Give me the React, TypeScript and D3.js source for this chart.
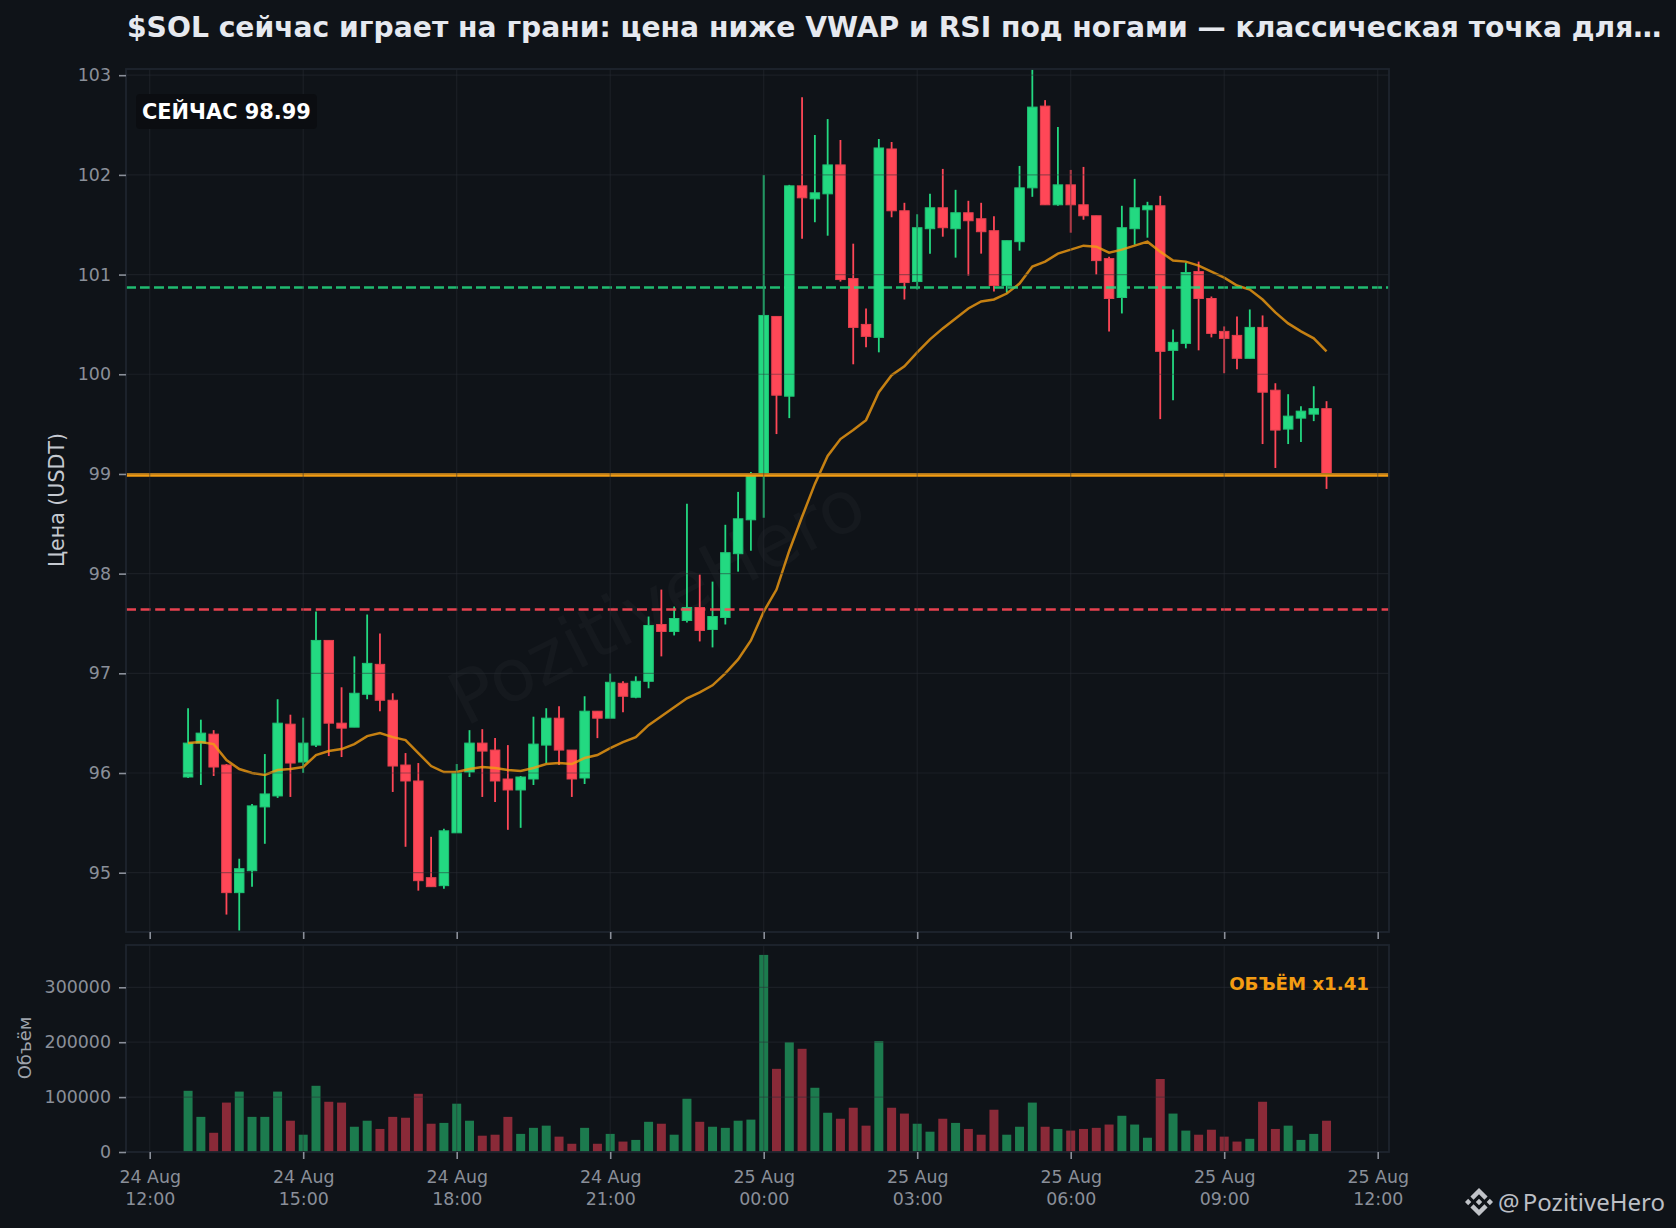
import { useRef, useEffect } from "react";
import * as d3 from "d3";

const WIDTH = 1676;
const HEIGHT = 1228;

const TITLE = "$SOL сейчас играет на грани: цена ниже VWAP и RSI под ногами — классическая точка для…";
const PRICE_TICKS = [95, 96, 97, 98, 99, 100, 101, 102, 103];
const VOLUME_TICKS = [0, 100000, 200000, 300000];
const CURRENT_PRICE = 98.99;
const RESISTANCE = 100.87;
const SUPPORT = 97.64;

// 15 minute candles, the first one opens at 24 Aug 12:45
const FIRST_CANDLE = Date.UTC(2021, 7, 24, 12, 45);
const STEP_MS = 15 * 60 * 1000;

const opens = [
    95.96, 96.3, 96.39, 96.08, 94.8, 95.02, 95.66, 95.77, 96.49, 96.11,
    96.28, 97.33, 96.5, 96.46, 96.79, 97.09, 96.73, 96.08, 95.92, 94.95,
    94.87, 95.4, 96.01, 96.3, 96.23, 95.94, 95.83, 95.94, 96.28, 96.55,
    96.23, 95.95, 96.62, 96.55, 96.9, 96.76, 96.92, 97.49, 97.42, 97.53,
    97.66, 97.44, 97.56, 98.2, 98.54, 99.0, 100.58, 99.78, 101.89, 101.76,
    101.81, 102.1, 100.96, 100.5, 100.37, 102.26, 101.64, 100.93, 101.46, 101.67,
    101.46, 101.62, 101.56, 101.44, 100.89, 101.33, 101.87, 102.69, 101.7, 101.9,
    101.7, 101.59, 101.16, 100.77, 101.46, 101.65, 101.69, 100.24, 100.31, 101.03,
    100.76, 100.43, 100.39, 100.16, 100.47, 99.84, 99.45, 99.56, 99.6, 99.655,
];
const closes = [
    96.3, 96.4, 96.06, 94.8, 95.04, 95.67, 95.79, 96.5, 96.1, 96.3,
    97.33, 96.5, 96.45, 96.8, 97.1, 96.73, 96.07, 95.92, 94.92, 94.86,
    95.42, 96.0, 96.3, 96.22, 95.92, 95.83, 95.96, 96.29, 96.55, 96.23,
    95.94, 96.62, 96.55, 96.91, 96.77, 96.92, 97.48, 97.42, 97.55, 97.66,
    97.43, 97.57, 98.21, 98.55, 99.0, 100.59, 99.79, 101.89, 101.77, 101.82,
    102.1, 100.95, 100.47, 100.38, 102.27, 101.64, 100.92, 101.47, 101.67, 101.47,
    101.62, 101.54, 101.43, 100.89, 101.34, 101.87, 102.68, 101.7, 101.9, 101.7,
    101.59, 101.14, 100.76, 101.47, 101.67, 101.69, 100.23, 100.32, 101.02, 100.76,
    100.41, 100.36, 100.16, 100.47, 99.82, 99.44, 99.58, 99.63, 99.655, 98.99,
];
const highs = [
    96.65, 96.535, 96.43, 96.09, 95.14, 95.69, 96.19, 96.74, 96.585, 96.555,
    97.62, 97.33, 96.86, 97.17, 97.59, 97.4, 96.8, 96.2, 96.1, 95.36,
    95.44, 96.09, 96.43, 96.44, 96.35, 96.28, 95.97, 96.565, 96.65, 96.67,
    96.23, 96.77, 96.62, 97.0, 96.92, 96.97, 97.57, 97.84, 97.67, 98.7,
    97.99, 97.92, 98.49, 98.82, 99.02, 102.0, 100.58, 101.9, 102.78, 102.4,
    102.56, 102.35, 101.31, 100.66, 102.36, 102.33, 101.72, 101.605, 101.81, 102.06,
    101.85, 101.74, 101.72, 101.585, 101.34, 102.09, 103.06, 102.75, 102.48, 102.05,
    102.08, 101.59, 101.18, 101.69, 101.96, 101.73, 101.79, 100.45, 101.12, 101.13,
    100.78, 100.48, 100.58, 100.65, 100.59, 99.91, 99.8, 99.68, 99.88, 99.73,
];
const lows = [
    95.95, 95.88, 95.97, 94.58, 94.42, 94.86, 95.29, 95.75, 95.76, 96.0,
    96.26, 96.17, 96.16, 96.46, 96.74, 96.62, 95.81, 95.26, 94.82, 94.86,
    94.84, 95.4, 95.96, 95.76, 95.71, 95.43, 95.45, 95.88, 96.1, 96.08,
    95.76, 95.89, 96.35, 96.55, 96.61, 96.75, 96.85, 97.17, 97.38, 97.51,
    97.32, 97.26, 97.49, 98.02, 98.23, 98.56, 99.4, 99.56, 101.36, 101.525,
    101.39, 100.93, 100.1, 100.27, 100.22, 101.575, 100.75, 100.85, 101.21, 101.38,
    101.17, 100.99, 101.21, 100.83, 100.82, 101.24, 101.78, 101.7, 101.69, 101.42,
    101.55, 101.0, 100.43, 100.61, 101.3, 101.37, 99.55, 99.74, 100.26, 100.24,
    100.37, 100.01, 100.05, 100.16, 99.3, 99.06, 99.3, 99.32, 99.53, 98.85,
];
const vwap = [
    96.3, 96.31, 96.29, 96.13, 96.04, 96.0, 95.98, 96.03, 96.04, 96.06,
    96.18, 96.22, 96.24, 96.29, 96.37, 96.4, 96.36, 96.33, 96.2, 96.07,
    96.01, 96.01, 96.04, 96.06, 96.05, 96.03, 96.02, 96.05, 96.09, 96.1,
    96.09, 96.15, 96.18, 96.25, 96.31, 96.36, 96.48, 96.57, 96.66, 96.75,
    96.81, 96.88, 97.0, 97.14, 97.33, 97.62, 97.84, 98.23, 98.57, 98.9,
    99.18, 99.35, 99.44, 99.54, 99.82, 99.99, 100.08, 100.22, 100.35, 100.46,
    100.56, 100.66, 100.73, 100.75, 100.81, 100.91, 101.08, 101.13, 101.21, 101.25,
    101.29, 101.28, 101.22, 101.25, 101.29, 101.33, 101.23, 101.14, 101.13, 101.09,
    101.03, 100.97, 100.89, 100.85, 100.75, 100.62, 100.51, 100.43, 100.36, 100.23,
];
const volumes = [
    111500, 64000, 35000, 90000, 110000, 64000, 64000, 110000, 57000, 31500,
    120600, 91500, 90000, 46000, 57000, 42000, 64000, 62400, 106000, 51500,
    53000, 88000, 57000, 29700, 31500, 64000, 33000, 44000, 48000, 28000,
    15000, 44000, 15000, 33000, 19000, 22000, 55000, 51500, 31500, 97000,
    55000, 46000, 44000, 57000, 59000, 359000, 151500, 200000, 188000, 117000,
    71500, 60600, 80600, 48000, 202000, 80600, 70000, 51500, 37000, 60600,
    53000, 42000, 31500, 77000, 31500, 46000, 90000, 46000, 42000, 39000,
    42000, 44000, 50000, 66000, 50000, 26000, 133000, 70000, 39000, 31500,
    40600, 28000, 19000, 24000, 91500, 42000, 48000, 22000, 33000, 57000,
];

const GREEN = "#23d981";
const GREEN_EDGE = "#1fc475";
const RED = "#ff4757";
const RED_EDGE = "#e5414f";
const VOL_GREEN = "#1c7b4e";
const VOL_RED = "#8a2a38";
const ORANGE = "#f39c12";
const BG = "#0f1318";
const SPINE = "#1e252e";
const TICK = "#8a8f99";
const FONT = "'DejaVu Sans', sans-serif";

const BINANCE =
    "M9.79 13.45 16 7.24l6.21 6.21 3.61-3.61L16 0 6.18 9.84l3.61 3.61zM0 16l3.61-3.61L7.22 16l-3.61 3.61zM9.79 18.55 16 24.76l6.21-6.21 3.62 3.61L16 32l-9.82-9.84zM24.78 16l3.61-3.61L32 16l-3.61 3.61zM19.66 16 16 12.34 12.34 16 16 19.66z";

const App = () => {
    const svgRef = useRef<SVGSVGElement | null>(null);

    useEffect(() => {
        const svg = d3.select(svgRef.current);
        svg.selectAll("*").remove();

        const left = 126;
        const right = 1389;
        const priceTop = 69;
        const priceBottom = 932;
        const volTop = 945;
        const volBottom = 1152;

        const times = opens.map((_, i) => new Date(FIRST_CANDLE + i * STEP_MS));
        const tickTimes = d3.range(0, 9).map(i => new Date(Date.UTC(2021, 7, 24, 12 + i * 3)));

        const x = d3.scaleUtc()
            .domain([tickTimes[0], tickTimes[8]])
            .range([149.7, 1377.7]);
        const yPrice = d3.scaleLinear().domain([95, 103]).range([872.7, 75.2]);
        const yVol = d3.scaleLinear().domain([0, 300000]).range([volBottom, 987.3]);

        svg.append("rect").attr("width", WIDTH).attr("height", HEIGHT).attr("fill", BG);

        const defs = svg.append("defs");
        defs.append("clipPath").attr("id", "price-clip").append("rect")
            .attr("x", left).attr("y", priceTop)
            .attr("width", right - left).attr("height", priceBottom - priceTop);

        // Watermark sits under everything else
        svg.append("text")
            .attr("transform", "translate(659,606) rotate(-27)")
            .attr("text-anchor", "middle")
            .attr("dominant-baseline", "middle")
            .attr("font-family", FONT)
            .attr("font-size", 73)
            .attr("fill", "#ffffff")
            .attr("fill-opacity", 0.026)
            .text("PozitiveHero");

        const price = svg.append("g").attr("clip-path", "url(#price-clip)");
        const barWidth = 9.5;

        // Candles
        const candle = price.selectAll("g.candle")
            .data(d3.range(opens.length))
            .join("g")
            .attr("class", "candle");
        candle.append("line")
            .attr("x1", i => x(times[i]))
            .attr("x2", i => x(times[i]))
            .attr("y1", i => yPrice(highs[i]))
            .attr("y2", i => yPrice(lows[i]))
            .attr("stroke", i => (closes[i] >= opens[i] ? GREEN : RED))
            .attr("stroke-width", 1.8);
        candle.append("rect")
            .attr("x", i => x(times[i]) - barWidth / 2)
            .attr("width", barWidth)
            .attr("y", i => yPrice(Math.max(opens[i], closes[i])))
            .attr("height", i => Math.abs(yPrice(opens[i]) - yPrice(closes[i])))
            .attr("fill", i => (closes[i] >= opens[i] ? GREEN : RED))
            .attr("stroke", i => (closes[i] >= opens[i] ? GREEN_EDGE : RED_EDGE))
            .attr("stroke-width", 1);

        // Volume bars
        svg.append("g").selectAll("rect")
            .data(volumes)
            .join("rect")
            .attr("x", (_, i) => x(times[i]) - 4.5)
            .attr("width", 9)
            .attr("y", d => yVol(d))
            .attr("height", d => volBottom - yVol(d))
            .attr("fill", (_, i) => (closes[i] >= opens[i] ? VOL_GREEN : VOL_RED));

        // Grid goes over the marks, it shows as a thin dark line across the bodies
        const grid = svg.append("g")
            .attr("stroke", "#2a2e35")
            .attr("stroke-opacity", 0.45)
            .attr("stroke-width", 1.2);
        PRICE_TICKS.forEach(t => {
            grid.append("line").attr("x1", left).attr("x2", right)
                .attr("y1", yPrice(t)).attr("y2", yPrice(t));
        });
        VOLUME_TICKS.slice(1).forEach(t => {
            grid.append("line").attr("x1", left).attr("x2", right)
                .attr("y1", yVol(t)).attr("y2", yVol(t));
        });
        tickTimes.forEach(t => {
            grid.append("line").attr("x1", x(t)).attr("x2", x(t))
                .attr("y1", priceTop).attr("y2", priceBottom);
            grid.append("line").attr("x1", x(t)).attr("x2", x(t))
                .attr("y1", volTop).attr("y2", volBottom);
        });

        // VWAP and the levels
        const line = d3.line<number>()
            .x((_, i) => x(times[i]))
            .y(d => yPrice(d));
        price.append("path")
            .datum(vwap)
            .attr("fill", "none")
            .attr("stroke", ORANGE)
            .attr("stroke-opacity", 0.8)
            .attr("stroke-width", 2.5)
            .attr("d", line);

        price.append("line")
            .attr("x1", left).attr("x2", right)
            .attr("y1", yPrice(RESISTANCE)).attr("y2", yPrice(RESISTANCE))
            .attr("stroke", GREEN)
            .attr("stroke-opacity", 0.85)
            .attr("stroke-width", 2.5)
            .attr("stroke-dasharray", "10 4");
        price.append("line")
            .attr("x1", left).attr("x2", right)
            .attr("y1", yPrice(SUPPORT)).attr("y2", yPrice(SUPPORT))
            .attr("stroke", RED)
            .attr("stroke-opacity", 0.9)
            .attr("stroke-width", 2.5)
            .attr("stroke-dasharray", "10 4.6");
        price.append("line")
            .attr("x1", left).attr("x2", right)
            .attr("y1", yPrice(CURRENT_PRICE)).attr("y2", yPrice(CURRENT_PRICE))
            .attr("stroke", ORANGE)
            .attr("stroke-width", 3.8);

        // Spines
        svg.append("rect")
            .attr("x", left).attr("y", priceTop)
            .attr("width", right - left).attr("height", priceBottom - priceTop)
            .attr("fill", "none").attr("stroke", SPINE).attr("stroke-width", 1.8);
        svg.append("rect")
            .attr("x", left).attr("y", volTop)
            .attr("width", right - left).attr("height", volBottom - volTop)
            .attr("fill", "none").attr("stroke", SPINE).attr("stroke-width", 1.8);

        // Axes
        const styleAxis = (g: any) => {
            g.select(".domain").remove();
            g.selectAll(".tick line").attr("stroke", TICK).attr("stroke-width", 1.6);
            g.selectAll("text")
                .attr("fill", TICK)
                .attr("font-family", FONT)
                .attr("font-size", 17.4);
        };

        svg.append("g")
            .attr("transform", `translate(${left},0)`)
            .call(d3.axisLeft(yPrice).tickValues(PRICE_TICKS).tickFormat(d3.format("d")).tickSize(7).tickPadding(8))
            .call(styleAxis);

        svg.append("g")
            .attr("transform", `translate(${left},0)`)
            .call(d3.axisLeft(yVol).tickValues(VOLUME_TICKS).tickFormat(d3.format("d")).tickSize(7).tickPadding(8))
            .call(styleAxis);

        svg.append("g")
            .attr("transform", `translate(0,${priceBottom})`)
            .call(d3.axisBottom(x).tickValues(tickTimes).tickFormat(() => "").tickSize(7))
            .call(styleAxis);

        const formatDay = d3.utcFormat("%d %b");
        const formatHour = d3.utcFormat("%H:%M");
        const bottomAxis = svg.append("g")
            .attr("transform", `translate(0,${volBottom})`)
            .call(d3.axisBottom(x).tickValues(tickTimes).tickFormat(() => "").tickSize(7))
            .call(styleAxis);
        bottomAxis.selectAll<SVGTextElement, Date>(".tick text")
            .each(function (d) {
                const t = d3.select(this);
                t.append("tspan").attr("x", 0).attr("y", 31).text(formatDay(d));
                t.append("tspan").attr("x", 0).attr("y", 53).text(formatHour(d));
            })
            .attr("dy", null);

        // Titles and labels
        svg.append("text")
            .attr("x", 127)
            .attr("y", 37)
            .attr("font-family", FONT)
            .attr("font-weight", "bold")
            .attr("font-size", 28.2)
            .attr("fill", "#e6e9ef")
            .text(TITLE);

        svg.append("text")
            .attr("transform", "translate(64,500) rotate(-90)")
            .attr("text-anchor", "middle")
            .attr("font-family", FONT)
            .attr("font-size", 20.6)
            .attr("fill", "#c5c9d0")
            .text("Цена (USDT)");

        svg.append("text")
            .attr("transform", "translate(31,1048) rotate(-90)")
            .attr("text-anchor", "middle")
            .attr("font-family", FONT)
            .attr("font-size", 18)
            .attr("fill", "#9ea3ab")
            .text("Объём");

        svg.append("rect")
            .attr("x", 136).attr("y", 94)
            .attr("width", 181).attr("height", 35)
            .attr("rx", 4)
            .attr("fill", "#0b0d11");
        svg.append("text")
            .attr("x", 142)
            .attr("y", 119)
            .attr("font-family", FONT)
            .attr("font-weight", "bold")
            .attr("font-size", 20.9)
            .attr("fill", "#ffffff")
            .text(`СЕЙЧАС ${CURRENT_PRICE}`);

        svg.append("text")
            .attr("x", 1369)
            .attr("y", 990)
            .attr("text-anchor", "end")
            .attr("font-family", FONT)
            .attr("font-weight", "bold")
            .attr("font-size", 18.2)
            .attr("fill", ORANGE)
            .text("ОБЪЁМ x1.41");

        // Signature in the corner
        svg.append("path")
            .attr("transform", "translate(1465,1188) scale(0.875)")
            .attr("d", BINANCE)
            .attr("fill", "#c0c3c8");
        svg.append("text")
            .attr("x", 1498)
            .attr("y", 1211)
            .attr("font-family", "'Noto Sans', sans-serif")
            .attr("font-size", 24)
            .attr("word-spacing", -3)
            .attr("fill", "#bcbfc5")
            .text("@ PozitiveHero");
    }, []);

    return (
        <svg
            ref={svgRef}
            width={WIDTH}
            height={HEIGHT}
            style={{ position: "absolute", top: 0, left: 0, display: "block" }}
        ></svg>
    );
};

export default App;
